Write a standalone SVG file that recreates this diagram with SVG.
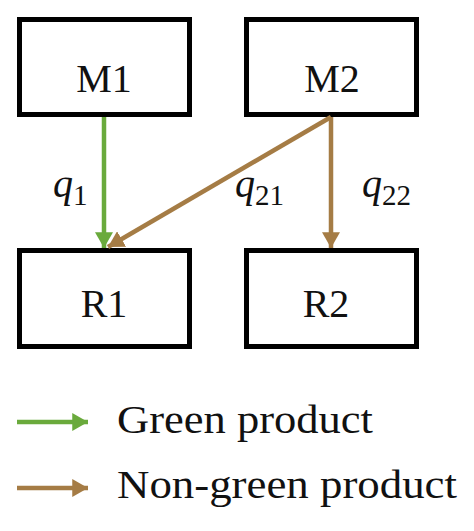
<svg xmlns="http://www.w3.org/2000/svg" width="474" height="531" viewBox="0 0 474 531">
<style>
.box{fill:#fff;stroke:#000;stroke-width:5}
.lbl{font-family:"Liberation Serif",serif;font-size:40px;fill:#111;text-anchor:middle}
.q{font-family:"Liberation Serif",serif;font-size:40px;fill:#111;font-style:italic}
.sub{font-style:normal;font-size:29px}
.leg{font-family:"Liberation Serif",serif;font-size:40px;fill:#111}
.g{stroke:#6aaa3c;stroke-width:4.5;fill:none}
.b{stroke:#a57c45;stroke-width:4.5;fill:none}
</style>
<defs>
<marker id="ag" markerUnits="userSpaceOnUse" markerWidth="18" markerHeight="18" refX="14" refY="8" orient="auto" viewBox="0 0 16 16"><path d="M0,0 L14,8 L0,16 Z" fill="#6aaa3c"/></marker>
<marker id="ab" markerUnits="userSpaceOnUse" markerWidth="18" markerHeight="18" refX="14" refY="8" orient="auto" viewBox="0 0 16 16"><path d="M0,0 L14,8 L0,16 Z" fill="#a57c45"/></marker>
</defs>
<g id="M1"><rect class="box" x="19.5" y="19.5" width="170" height="95"/><text class="lbl" x="104" y="92">M1</text></g>
<g id="M2"><rect class="box" x="246.5" y="19.5" width="170" height="95"/><text class="lbl" x="332" y="92">M2</text></g>
<g id="R1"><rect class="box" x="19.5" y="250.5" width="170" height="96"/><text class="lbl" x="104" y="317">R1</text></g>
<g id="R2"><rect class="box" x="246.5" y="250.5" width="170" height="96"/><text class="lbl" x="326" y="317">R2</text></g>
<g id="connectors">
<line class="g" x1="104" y1="117" x2="104" y2="248" marker-end="url(#ag)"/>
<line class="b" x1="331" y1="117" x2="108" y2="247" marker-end="url(#ab)"/>
<line class="b" x1="331" y1="117" x2="331" y2="248" marker-end="url(#ab)"/>
<text class="q" x="53" y="197">q<tspan class="sub" dy="8">1</tspan></text>
<text class="q" x="235" y="197">q<tspan class="sub" dy="8">21</tspan></text>
<text class="q" x="362" y="197">q<tspan class="sub" dy="8">22</tspan></text>
</g>
<g id="legend">
<line class="g" x1="17" y1="422" x2="88" y2="422" marker-end="url(#ag)"/>
<text class="leg" x="117" y="433" textLength="256" lengthAdjust="spacingAndGlyphs">Green product</text>
<line class="b" x1="17" y1="488" x2="88" y2="488" marker-end="url(#ab)"/>
<text class="leg" x="117" y="498" textLength="340" lengthAdjust="spacingAndGlyphs">Non-green product</text>
</g>
</svg>
